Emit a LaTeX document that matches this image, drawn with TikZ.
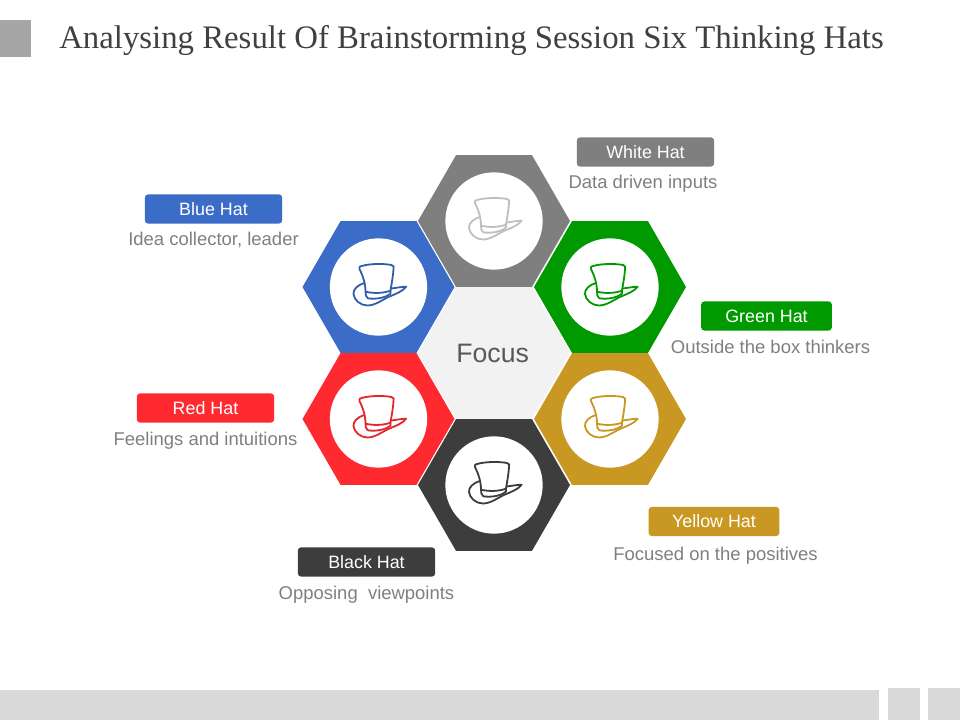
\documentclass[tikz,border=0pt]{standalone}
\usepackage{fontspec}
\setmainfont{Liberation Sans}
\newfontfamily\titlefont{Liberation Serif}
\usetikzlibrary{shapes.geometric}
\definecolor{hatgray}{HTML}{7F7F7F}
\definecolor{hatblue}{HTML}{3B6CC8}
\definecolor{hatgreen}{HTML}{009900}
\definecolor{hatyellow}{HTML}{C99823}
\definecolor{hatred}{HTML}{FF2A2F}
\definecolor{hatblack}{HTML}{3D3D3D}
\definecolor{notegray}{HTML}{7F7F7F}
\definecolor{barbg}{HTML}{D9D9D9}
\tikzset{
  hexcell/.style={regular polygon, regular polygon sides=6, minimum size=114pt, inner sep=0pt, outer sep=0pt, fill=#1},
  hatdisc/.style={circle, fill=white, minimum size=73pt, inner sep=0pt},
  hatbox/.style={rounded corners=2.5pt, fill=#1, text=white, font=\fontsize{13.4}{16}\selectfont, minimum height=22pt, inner sep=0pt},
  hatnote/.style={anchor=base, text=notegray, font=\fontsize{13.85}{16}\selectfont, inner sep=0pt},
  hatline/.style={line width=1.35pt, line join=round, line cap=round, draw=#1, fill=none},
  tophat/.pic={
    \path[pic actions] (-17,-21) .. controls (-8,-23.5) and (5,-23.5) .. (13,-22)
      .. controls (15.5,-21.5) and (15.5,-20) .. (15,-18)
      .. controls (14.5,-10) and (13,-3) .. (12,3.7)
      .. controls (4,6.5) and (-5,6.5) .. (-13,4.7)
      .. controls (-13,-4) and (-16,-12) .. (-19,-18)
      .. controls (-19.5,-20) and (-19,-20.5) .. (-17,-21) -- cycle;
    \path[pic actions] (-13,4.7) .. controls (-13.2,7.5) and (-12.5,10) .. (-10.7,11.3)
      .. controls (-3,12.5) and (7,11) .. (12,6.5) -- (12,3.7);
    \path[pic actions] (-14.2,-4) .. controls (-21,-2) and (-25.5,2.5) .. (-25,7)
      .. controls (-24.5,13) and (-18,18.5) .. (-11,18.5)
      .. controls (-3,18.5) and (4,12.5) .. (11,9.5)
      .. controls (17,7) and (24,4.5) .. (27.7,-0.3)
      .. controls (23,-0.2) and (17,1) .. (12.6,1.5);
  }
}
\begin{document}
\begin{tikzpicture}[x=0.75pt, y=-0.75pt]
    \useasboundingbox (0, 0) rectangle (960, 720);
    % header and footer
    \fill [color=black!35]   (0, 20) rectangle (31, 57);
    \node [anchor=base west, inner sep=0pt, text=black!75, font=\titlefont\fontsize{24.6}{28}\selectfont] (title) at (59, 49) {Analysing Result Of Brainstorming Session Six Thinking Hats};
    \fill [barbg]            (0, 690) rectangle (879, 720);
    \fill [barbg]            (888, 688) rectangle (920, 720);
    \fill [barbg]            (928, 688) rectangle (960, 720);
    % Focus
    \node [hexcell=black!5, text=black!65, font=\fontsize{20}{24}\selectfont] (focus) at (494, 353) {\hspace*{-2pt}Focus};
    % White
    \node [hexcell=hatgray]  (whitecell) at (494, 221) {};
    \node [hatdisc]          (whitedisc) at (whitecell) {};
    \pic [hatline=black!25] at (whitecell) {tophat};
    \node [hatbox=hatgray, minimum width=103pt] (whitebox) at (645.5, 152) {White Hat};
    \node [hatnote]          (whitenote) at (643, 188.5) {Data driven inputs};
    % Blue
    \node [hexcell=hatblue]  (bluecell) at (378.5, 287) {};
    \node [hatdisc]          (bluedisc) at (bluecell) {};
    \pic [hatline=hatblue!85!black] at (bluecell) {tophat};
    \node [hatbox=hatblue, minimum width=103pt] (bluebox) at (213.5, 209) {Blue Hat};
    \node [hatnote]          (bluenote) at (213.5, 245.5) {Idea collector, leader};
    % Green
    \node [hexcell=hatgreen] (greencell) at (610, 287) {};
    \node [hatdisc]          (greendisc) at (greencell) {};
    \pic [hatline=hatgreen] at (greencell) {tophat};
    \node [hatbox=hatgreen, minimum width=98pt] (greenbox) at (766.5, 316) {Green Hat};
    \node [hatnote]          (greennote) at (770.5, 353.5) {Outside the box thinkers};
    % Red
    \node [hexcell=hatred]   (redcell) at (378.5, 419) {};
    \node [hatdisc]          (reddisc) at (redcell) {};
    \pic [hatline=hatred!90!black] at (redcell) {tophat};
    \node [hatbox=hatred, minimum width=103pt] (redbox) at (205.5, 408) {Red Hat};
    \node [hatnote]          (rednote) at (205.5, 445.5) {Feelings and intuitions};
    % Yellow
    \node [hexcell=hatyellow] (yellowcell) at (610, 419) {};
    \node [hatdisc]          (yellowdisc) at (yellowcell) {};
    \pic [hatline=hatyellow] at (yellowcell) {tophat};
    \node [hatbox=hatyellow, minimum width=98pt] (yellowbox) at (714, 521.5) {Yellow Hat};
    \node [hatnote]          (yellownote) at (715.5, 560.5) {Focused on the positives};
    % Black
    \node [hexcell=hatblack] (blackcell) at (494, 485) {};
    \node [hatdisc]          (blackdisc) at (blackcell) {};
    \pic [hatline=hatblack] at (blackcell) {tophat};
    \node [hatbox=hatblack, minimum width=103pt] (blackbox) at (366.5, 562) {Black Hat};
    \node [hatnote]          (blacknote) at (366.5, 599.5) {Opposing\ \ viewpoints};
  \end{tikzpicture}
\end{document}
